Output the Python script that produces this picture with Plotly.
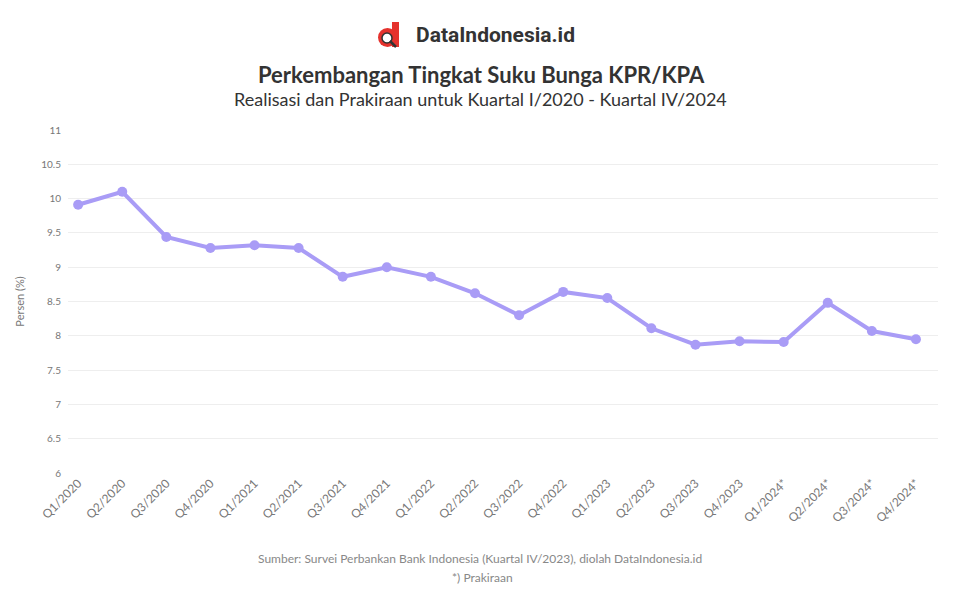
import plotly.graph_objects as go

quarters = ["Q1/2020", "Q2/2020", "Q3/2020", "Q4/2020",
            "Q1/2021", "Q2/2021", "Q3/2021", "Q4/2021",
            "Q1/2022", "Q2/2022", "Q3/2022", "Q4/2022",
            "Q1/2023", "Q2/2023", "Q3/2023", "Q4/2023",
            "Q1/2024*", "Q2/2024*", "Q3/2024*", "Q4/2024*"]
suku_bunga = [9.91, 10.10, 9.44, 9.28, 9.32, 9.28, 8.86, 9.00, 8.86, 8.62,
              8.30, 8.64, 8.55, 8.11, 7.87, 7.92, 7.91, 8.48, 8.07, 7.95]
y_ticks = [6, 6.5, 7, 7.5, 8, 8.5, 9, 9.5, 10, 10.5, 11]

OFF = 8  # page body margin
W, H = 952, 592
# plot area in screen coordinates
SL, SR, ST, SB = 68, 938, 130, 473
L, R, T, B = SL - OFF, SR - OFF, ST - OFF, SB - OFF


def px(x):
    return (x - SL) / (SR - SL)


def py(y):
    return (SB - y) / (SB - ST)


fig = go.Figure()
fig.add_trace(go.Scatter(
    x=list(range(len(quarters))), y=suku_bunga, mode="lines+markers",
    line=dict(color="#a99cf6", width=4),
    marker=dict(color="#a99cf6", size=10),
    hovertemplate="%{text}: %{y:.2f}%<extra></extra>", text=quarters,
))

shapes = [
    dict(type="circle", xref="paper", yref="paper",
         x0=px(378), x1=px(397), y0=py(47), y1=py(28),
         fillcolor="#e5322d", line=dict(width=0)),
    dict(type="rect", xref="paper", yref="paper",
         x0=px(392), x1=px(399), y0=py(47), y1=py(22),
         fillcolor="#e5322d", line=dict(width=0)),
    dict(type="circle", xref="paper", yref="paper",
         x0=px(382), x1=px(392), y0=py(43), y1=py(33),
         fillcolor="#ffffff", line=dict(color="#333333", width=1.5)),
    dict(type="line", xref="paper", yref="paper",
         x0=px(390), x1=px(396), y0=py(41), y1=py(47),
         line=dict(color="#333333", width=2.5)),
]

annotations = [
    dict(text="DataIndonesia.id", x=px(414), y=py(35), xref="paper", yref="paper",
         xanchor="left", yanchor="middle", showarrow=False,
         font=dict(family="Roboto", size=21, color="#333333", weight="bold")),
    dict(text="<b>Perkembangan Tingkat Suku Bunga KPR/KPA</b>", x=px(481), y=py(74),
         xref="paper", yref="paper", xanchor="center", yanchor="middle",
         showarrow=False, font=dict(family="Lato", size=22, color="#333333")),
    dict(text="Realisasi dan Prakiraan untuk Kuartal I/2020 - Kuartal IV/2024",
         x=px(480), y=py(99), xref="paper", yref="paper", xanchor="center",
         yanchor="middle", showarrow=False,
         font=dict(family="Lato", size=18, color="#333333")),
    dict(text="Sumber: Survei Perbankan Bank Indonesia (Kuartal IV/2023), diolah DataIndonesia.id",
         x=px(480), y=py(558), xref="paper", yref="paper", xanchor="center",
         yanchor="middle", showarrow=False,
         font=dict(family="Lato", size=12, color="#888888")),
    dict(text="*) Prakiraan", x=px(482), y=py(577), xref="paper", yref="paper",
         xanchor="center", yanchor="middle", showarrow=False,
         font=dict(family="Lato", size=12, color="#888888")),
]

fig.update_layout(
    width=W, height=H,
    margin=dict(l=L, r=W - R, t=T, b=H - B, autoexpand=False),
    paper_bgcolor="#ffffff", plot_bgcolor="#ffffff",
    showlegend=False,
    shapes=shapes, annotations=annotations,
    font=dict(family="Lato", color="#666666"),
    xaxis=dict(
        tickmode="array", tickvals=list(range(len(quarters))), ticktext=quarters,
        range=[-0.23, 19.5], tickangle=-45, showgrid=False, zeroline=False,
        showline=False, tickfont=dict(size=12, color="#777777"),
    ),
    yaxis=dict(
        range=[6, 11], tickvals=y_ticks, showgrid=True, gridcolor="#eeeeee",
        gridwidth=1, zeroline=False, showline=False, ticklabelstandoff=6,
        tickfont=dict(size=10, color="#777777"),
        title=dict(text="Persen (%)", font=dict(size=11, color="#777777"), standoff=14),
    ),
)

fig.write_html("out.html")
